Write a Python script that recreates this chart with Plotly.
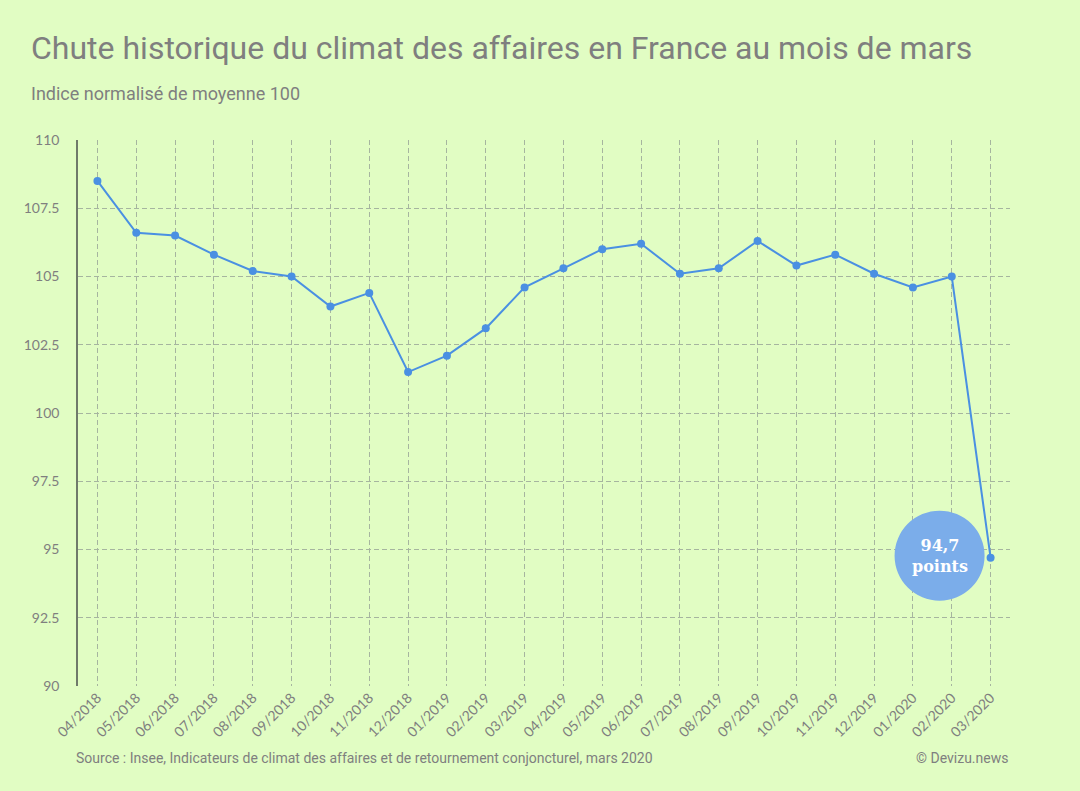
import plotly.graph_objects as go

months = ["04/2018", "05/2018", "06/2018", "07/2018", "08/2018", "09/2018", "10/2018",
          "11/2018", "12/2018", "01/2019", "02/2019", "03/2019", "04/2019", "05/2019",
          "06/2019", "07/2019", "08/2019", "09/2019", "10/2019", "11/2019", "12/2019",
          "01/2020", "02/2020", "03/2020"]
values = [108.5, 106.6, 106.5, 105.8, 105.2, 105.0, 103.9, 104.4, 101.5, 102.1, 103.1,
          104.6, 105.3, 106.0, 106.2, 105.1, 105.3, 106.3, 105.4, 105.8, 105.1, 104.6,
          105.0, 94.7]
y_ticks = [90, 92.5, 95, 97.5, 100, 102.5, 105, 107.5, 110]
y_ticktext = ["90", "92.5", "95", "97.5", "100", "102.5", "105", "107.5", "110"]

BG = "#e1fdc3"
GRAY = "#7f7f7f"
LINE = "#4a90e2"
GRID = "#a6b59f"

fig = go.Figure()
fig.add_trace(go.Scatter(
    x=list(range(len(months))), y=values, mode="lines+markers",
    line=dict(color=LINE, width=2), marker=dict(color=LINE, size=8),
    hoverinfo="skip", showlegend=False,
))

last_i = len(values) - 1
fig.add_shape(type="circle", xref="x", yref="y",
              xsizemode="pixel", ysizemode="pixel",
              xanchor=last_i, yanchor=values[-1],
              x0=-96, x1=-6, y0=-43, y1=47,
              fillcolor="#7badea", line=dict(width=0), layer="above")
fig.add_annotation(x=last_i, y=values[-1], xref="x", yref="y",
                   text="<b>94,7<br>points</b>", showarrow=False,
                   xshift=-51, yshift=2,
                   font=dict(family="DejaVu Serif, serif", size=16, color="white"))

fig.update_layout(
    width=1080, height=791,
    paper_bgcolor=BG, plot_bgcolor=BG,
    margin=dict(l=78, r=70, t=140, b=105),
    font=dict(family="Lato, Roboto, sans-serif", color=GRAY),
    xaxis=dict(
        tickmode="array", tickvals=list(range(len(months))), ticktext=months,
        range=[-0.5, last_i + 0.5], tickangle=-45,
        showgrid=True, gridcolor=GRID, griddash="5px,3px", gridwidth=1,
        zeroline=False, showline=False, ticks="",
        tickfont=dict(family="Lato", size=14, color=GRAY),
    ),
    yaxis=dict(
        range=[90, 110], tickmode="array", tickvals=y_ticks, ticktext=y_ticktext,
        showgrid=True, gridcolor=GRID, griddash="5px,3px", gridwidth=1,
        zeroline=False, showline=True, linecolor="#6f7a6a", linewidth=1.5,
        ticks="", ticklabelstandoff=14,
        tickfont=dict(family="Lato", size=14, color=GRAY),
    ),
    annotations=list(fig.layout.annotations) + [
        dict(text="Chute historique du climat des affaires en France au mois de mars",
             xref="paper", yref="paper", x=-49/932, y=1 + (140 - 48) / 546,
             xanchor="left", yanchor="middle", showarrow=False,
             font=dict(family="Roboto", size=32, color=GRAY)),
        dict(text="Indice normalisé de moyenne 100",
             xref="paper", yref="paper", x=-49/932, y=1 + (140 - 93) / 546,
             xanchor="left", yanchor="middle", showarrow=False,
             font=dict(family="Roboto", size=18, color=GRAY)),
        dict(text="Source : Insee, Indicateurs de climat des affaires et de retournement conjoncturel, mars 2020",
             xref="paper", yref="paper", x=-4/932, y=-(758 - 686) / 546,
             xanchor="left", yanchor="middle", showarrow=False,
             font=dict(family="Roboto", size=14, color=GRAY)),
        dict(text="© Devizu.news",
             xref="paper", yref="paper", x=1, y=-(758 - 686) / 546,
             xanchor="right", yanchor="middle", showarrow=False,
             font=dict(family="Roboto", size=14, color=GRAY)),
    ],
)

fig.write_html("out.html", config={"displayModeBar": False})

with open("out.html", "r", encoding="utf-8") as f:
    html = f.read()
html = html.replace("<head>", "<head><style>html,body{margin:0;padding:0;background:%s;}</style>" % BG, 1)
with open("out.html", "w", encoding="utf-8") as f:
    f.write(html)
